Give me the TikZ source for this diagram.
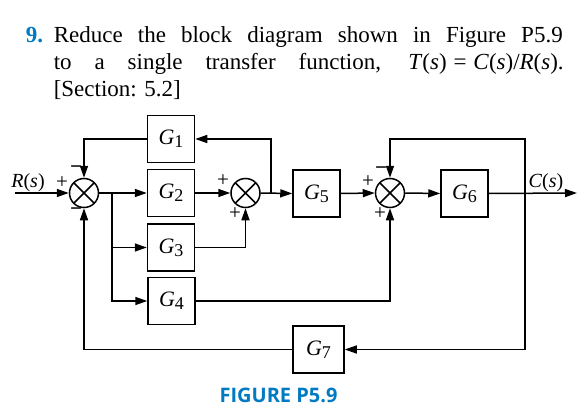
\documentclass[tikz,border=0pt]{standalone}
\usepackage{fontspec}
\setmainfont{Liberation Serif}
\newfontfamily\capfont{Open Sans}
\usepackage{xcolor}
\usetikzlibrary{arrows.meta,positioning}
\definecolor{figblue}{RGB}{0,122,194}
\tikzset
{
    blocknode/.style = {rectangle, draw=black, minimum width=47pt, minimum height=47pt, inner sep=0pt, font=\fontsize{22}{22}\selectfont},
    sumnode/.style   = {circle, draw=black, minimum size=29pt, inner sep=0pt, path picture={\draw[-] (path picture bounding box.north west) -- (path picture bounding box.south east) (path picture bounding box.north east) -- (path picture bounding box.south west);}},
    signnode/.style  = {inner sep=0pt, font=\fontsize{21}{21}\selectfont},
    textline/.style  = {inner sep=0pt, anchor=base west, font=\fontsize{23}{26}\selectfont}
}
\newcommand{\gblock}[1]{\textit{G}\raisebox{-3pt}{\fontsize{18}{18}\selectfont #1}}

\begin{document}
\begin{tikzpicture}[->,>={Triangle[length=12pt,width=8pt]}, line width=1.5pt, x=1pt, y=-1pt]
    \useasboundingbox (0,0) rectangle (579,412);
    \node [textline, anchor=base east, text=figblue] (qnum) at (44,43) {\textbf{9.}};
    \node [textline] (title1) at (53,43) {\makebox[509pt][s]{Reduce the block diagram shown in Figure P5.9}};
    \node [textline] (title2) at (53,70) {\makebox[510pt][s]{to a single transfer function, \textit{T}(\textit{s})\hspace{0.3em}=\hspace{0.3em}\textit{C}(\textit{s})/\textit{R}(\textit{s}).}};
    \node [textline] (title3) at (53,96) {[Section: 5.2]};

    \node [sumnode] (sum1) at (84,193) {};
    \node [blocknode] (g1) at (171,139) {\gblock{1}};
    \node [blocknode] (g2) at (171,193) {\gblock{2}};
    \node [blocknode] (g3) at (171,247.5) {\gblock{3}};
    \node [blocknode] (g4) at (171.5,301) {\gblock{4}};
    \node [sumnode] (sum2) at (245.5,193) {};
    \node [blocknode] (g5) at (316.5,193.5) {\gblock{5}};
    \node [sumnode] (sum3) at (390,193) {};
    \node [blocknode] (g6) at (464.5,193.5) {\gblock{6}};
    \node [blocknode, minimum width=51pt] (g7) at (318.5,349.5) {\gblock{7}};

    \coordinate (in) at (15,193);
    \coordinate (out) at (577,193);
    \coordinate (split1) at (112,193);
    \coordinate (split2) at (271,193);
    \coordinate (split3) at (525,193);
    \coordinate (top3) at (525,139);

    \node [anchor=base, inner sep=0pt, font=\fontsize{20}{20}\selectfont] (rlabel) at (28,187) {\textit{R}(\textit{s})};
    \node [anchor=base, inner sep=0pt, font=\fontsize{20}{20}\selectfont] (clabel) at (546,187) {\textit{C}(\textit{s})};

    \node [signnode] (s1a) at (62,183) {+};
    \node [signnode] (s1b) at (76,170) {\textbf{−}};
    \node [signnode] (s1c) at (76,212) {\textbf{−}};
    \node [signnode] (s2a) at (223,181) {+};
    \node [signnode] (s2b) at (235,214) {+};
    \node [signnode] (s3a) at (368,182) {+};
    \node [signnode] (s3b) at (381,171) {\textbf{−}};
    \node [signnode] (s3c) at (380,214) {+};

    \draw (in) -- (sum1.west);
    \draw (sum1.east) -- (g2.west);
    \draw (split1) |- (g3.west);
    \draw (split1) |- (g4.west);
    \draw (g2.east) -- (sum2.west);
    \draw (g3.east) -| (sum2.south);
    \draw (sum2.east) -- (g5.west);
    \draw (split2) |- (g1.east);
    \draw (g1.west) -| (sum1.north);
    \draw (g5.east) -- (sum3.west);
    \draw (g4.east) -| (sum3.south);
    \draw (sum3.east) -- (g6.west);
    \draw (g6.east) -- (out);
    \draw (split3) -- (top3) -| (sum3.north);
    \draw (split3) |- (g7.east);
    \draw (g7.west) -| (sum1.south);

    \node [anchor=base, inner sep=0pt, text=figblue, font=\capfont\bfseries\fontsize{20}{20}\selectfont] (caption) at (278.5,402) {FIGURE P5.9};
\end{tikzpicture}
\end{document}
